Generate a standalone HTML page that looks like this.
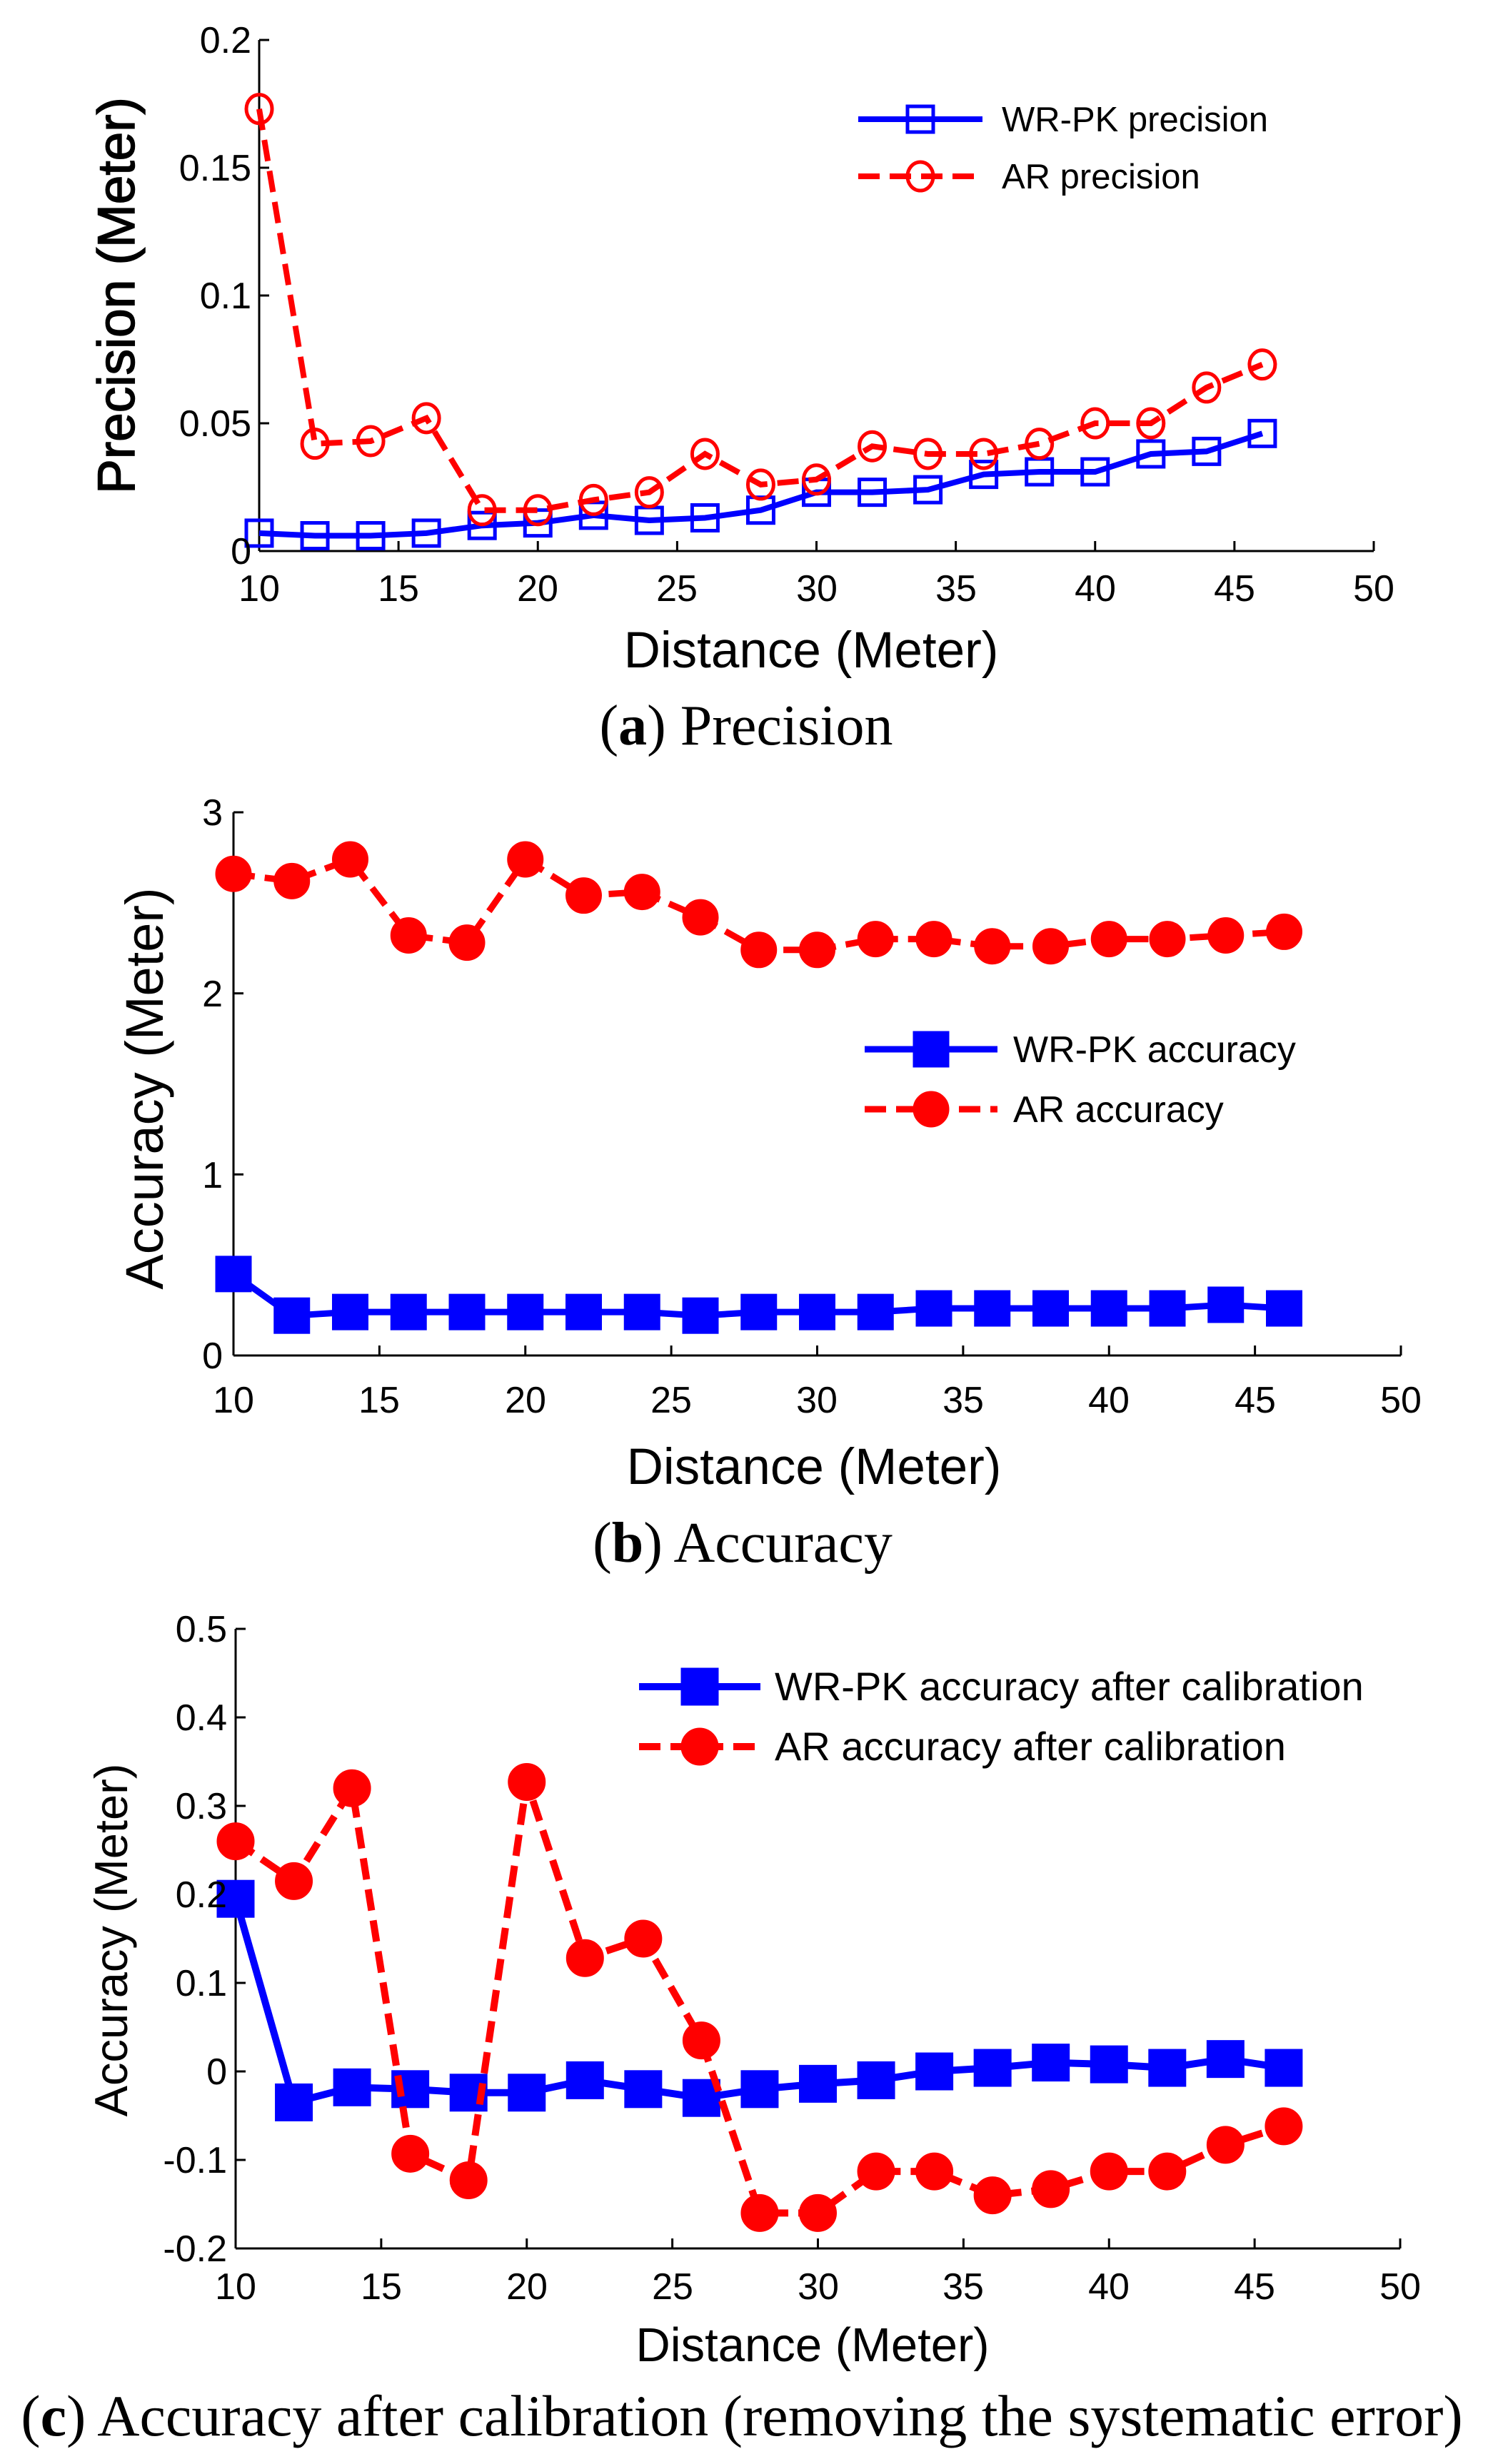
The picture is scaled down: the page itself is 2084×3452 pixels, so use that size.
<!DOCTYPE html>
<html><head><meta charset="utf-8"><style>
body{margin:0;background:#fff}
svg{display:block}
text{font-family:"Liberation Sans",sans-serif;fill:#000}
.t{font-size:52px}
.ax{font-size:71px}
.lg{font-size:49px}
.cap{font-family:"Liberation Serif",serif;font-size:80px}
</style></head><body>
<svg id="s" width="2084" height="3452" viewBox="0 0 2084 3452" xmlns="http://www.w3.org/2000/svg">
<g id="g"></g>
<!-- chart a text -->
<g class="t" text-anchor="middle">
<text x="363" y="842">10</text><text x="558" y="842">15</text><text x="753" y="842">20</text><text x="948" y="842">25</text><text x="1144" y="842">30</text><text x="1339" y="842">35</text><text x="1534" y="842">40</text><text x="1729" y="842">45</text><text x="1924" y="842">50</text>
</g>
<g class="t" text-anchor="end">
<text x="352" y="790">0</text><text x="352" y="611">0.05</text><text x="352" y="432">0.1</text><text x="352" y="253">0.15</text><text x="352" y="74">0.2</text>
</g>
<text class="ax" x="1136" y="935" text-anchor="middle">Distance (Meter)</text>
<text class="ax" transform="translate(188,414) rotate(-90)" text-anchor="middle" style="font-size:73px;stroke:#000;stroke-width:1.5">Precision (Meter)</text>
<text class="lg" x="1403" y="184">WR-PK precision</text>
<text class="lg" x="1403" y="264">AR precision</text>
<text class="cap" x="1045" y="1043" text-anchor="middle">(<tspan font-weight="bold">a</tspan>) Precision</text>
<!-- chart b text -->
<g class="t" text-anchor="middle">
<text x="327" y="1979">10</text><text x="531" y="1979">15</text><text x="736" y="1979">20</text><text x="940" y="1979">25</text><text x="1144" y="1979">30</text><text x="1349" y="1979">35</text><text x="1553" y="1979">40</text><text x="1758" y="1979">45</text><text x="1962" y="1979">50</text>
</g>
<g class="t" text-anchor="end">
<text x="312" y="1917">0</text><text x="312" y="1664">1</text><text x="312" y="1410">2</text><text x="312" y="1156">3</text>
</g>
<text class="ax" x="1140" y="2079" text-anchor="middle">Distance (Meter)</text>
<text class="ax" transform="translate(228,1525) rotate(-90)" text-anchor="middle" style="font-size:74px">Accuracy (Meter)</text>
<text class="lg" x="1419" y="1488" style="font-size:52px">WR-PK accuracy</text>
<text class="lg" x="1419" y="1572" style="font-size:52px">AR accuracy</text>
<text class="cap" x="1040" y="2188" text-anchor="middle">(<tspan font-weight="bold">b</tspan>) Accuracy</text>
<!-- chart c text -->
<g class="t" text-anchor="middle">
<text x="330" y="3221">10</text><text x="534" y="3221">15</text><text x="738" y="3221">20</text><text x="942" y="3221">25</text><text x="1146" y="3221">30</text><text x="1349" y="3221">35</text><text x="1553" y="3221">40</text><text x="1757" y="3221">45</text><text x="1961" y="3221">50</text>
</g>
<g class="t" text-anchor="end">
<text x="318" y="2300">0.5</text><text x="318" y="2424">0.4</text><text x="318" y="2548">0.3</text><text x="318" y="2672">0.2</text><text x="318" y="2796">0.1</text><text x="318" y="2920">0</text><text x="318" y="3044">-0.1</text><text x="318" y="3168">-0.2</text>
</g>
<text class="ax" x="1138" y="3308" text-anchor="middle" style="font-size:67px">Distance (Meter)</text>
<text class="ax" transform="translate(178,2718) rotate(-90)" text-anchor="middle" style="font-size:65px">Accuracy (Meter)</text>
<text class="lg" x="1085" y="2382" style="font-size:56px">WR-PK accuracy after calibration</text>
<text class="lg" x="1085" y="2466" style="font-size:56px">AR accuracy after calibration</text>
<text class="cap" x="1039" y="3412" text-anchor="middle" style="font-size:82px">(<tspan font-weight="bold">c</tspan>) Accuracy after calibration (removing the systematic error)</text>
</svg>
<script>
var NS="http://www.w3.org/2000/svg",g=document.getElementById("g");
function el(n,a){var e=document.createElementNS(NS,n);for(var k in a)e.setAttribute(k,a[k]);g.appendChild(e);return e;}
function chart(o){
 var X=function(v){return o.x0+(v-10)*(o.x1-o.x0)/40},Y=function(v){return o.y0+(v-o.ymin)*(o.y1-o.y0)/(o.ymax-o.ymin)};
 el("line",{x1:o.x0,y1:o.y1,x2:o.x0,y2:o.y0,stroke:"#000","stroke-width":3});
 el("line",{x1:o.x0,y1:o.y0,x2:o.x1,y2:o.y0,stroke:"#000","stroke-width":3});
 for(var v=10;v<=50;v+=5)el("line",{x1:X(v),y1:o.y0,x2:X(v),y2:o.y0-14,stroke:"#000","stroke-width":3});
 o.yt.forEach(function(v){el("line",{x1:o.x0,y1:Y(v),x2:o.x0+14,y2:Y(v),stroke:"#000","stroke-width":3});});
 o.series.forEach(function(s){
  var pts=s.d.map(function(v,i){return X(10+2*i)+","+Y(v)}).join(" ");
  el("polyline",{points:pts,fill:"none",stroke:s.c,"stroke-width":o.lw||8,"stroke-dasharray":s.dash?"30,14":"none"});
  var mk=function(x,y){
   if(s.m=="sq")el("rect",{x:x-o.ms/2,y:y-o.ms/2,width:o.ms,height:o.ms,fill:s.f?s.c:"none",stroke:s.c,"stroke-width":5});
   else el("ellipse",{cx:x,cy:y,rx:o.ms/2,ry:o.ms/2+(s.f?0:2),fill:s.f?s.c:"none",stroke:s.c,"stroke-width":5});
  };
  s.d.forEach(function(v,i){mk(X(10+2*i),Y(v))});
  el("line",{x1:s.lx0,y1:s.ly,x2:s.lx1,y2:s.ly,stroke:s.c,"stroke-width":o.lw||8,"stroke-dasharray":s.dash?"30,14":"none"});
  mk((s.lx0+s.lx1)/2,s.ly);
 });
}
chart({x0:363,x1:1924,y0:772,y1:56,ymin:0,ymax:0.2,yt:[0,0.05,0.1,0.15,0.2],ms:36,series:[
 {c:"#0000ff",m:"sq",d:[0.007,0.006,0.006,0.007,0.01,0.011,0.014,0.012,0.013,0.016,0.023,0.023,0.024,0.03,0.031,0.031,0.038,0.039,0.046],lx0:1202,lx1:1376,ly:167},
 {c:"#ff0000",m:"c",dash:1,d:[0.173,0.042,0.043,0.052,0.016,0.016,0.02,0.023,0.038,0.026,0.028,0.041,0.038,0.038,0.042,0.05,0.05,0.064,0.073],lx0:1202,lx1:1376,ly:247}]});
chart({x0:327,x1:1962,y0:1899,y1:1138,ymin:0,ymax:3,yt:[0,1,2,3],ms:46,lw:9,series:[
 {c:"#0000ff",m:"sq",f:1,d:[0.45,0.22,0.24,0.24,0.24,0.24,0.24,0.24,0.22,0.24,0.24,0.24,0.26,0.26,0.26,0.26,0.26,0.28,0.26],lx0:1211,lx1:1397,ly:1470},
 {c:"#ff0000",m:"c",f:1,dash:1,d:[2.66,2.62,2.74,2.32,2.28,2.74,2.54,2.56,2.42,2.24,2.24,2.30,2.30,2.26,2.26,2.30,2.30,2.32,2.34],lx0:1211,lx1:1397,ly:1554}]});
chart({x0:330,x1:1961,y0:3150,y1:2282,ymin:-0.2,ymax:0.5,yt:[-0.2,-0.1,0,0.1,0.2,0.3,0.4,0.5],ms:48,lw:10,series:[
 {c:"#0000ff",m:"sq",f:1,d:[0.195,-0.035,-0.018,-0.02,-0.024,-0.024,-0.01,-0.02,-0.03,-0.02,-0.014,-0.01,0,0.004,0.01,0.008,0.004,0.014,0.004],lx0:895,lx1:1065,ly:2363},
 {c:"#ff0000",m:"c",f:1,dash:1,d:[0.26,0.215,0.32,-0.093,-0.123,0.327,0.128,0.15,0.035,-0.16,-0.16,-0.113,-0.113,-0.14,-0.133,-0.113,-0.113,-0.083,-0.062],lx0:895,lx1:1065,ly:2447}]});
</script>
</body></html>
